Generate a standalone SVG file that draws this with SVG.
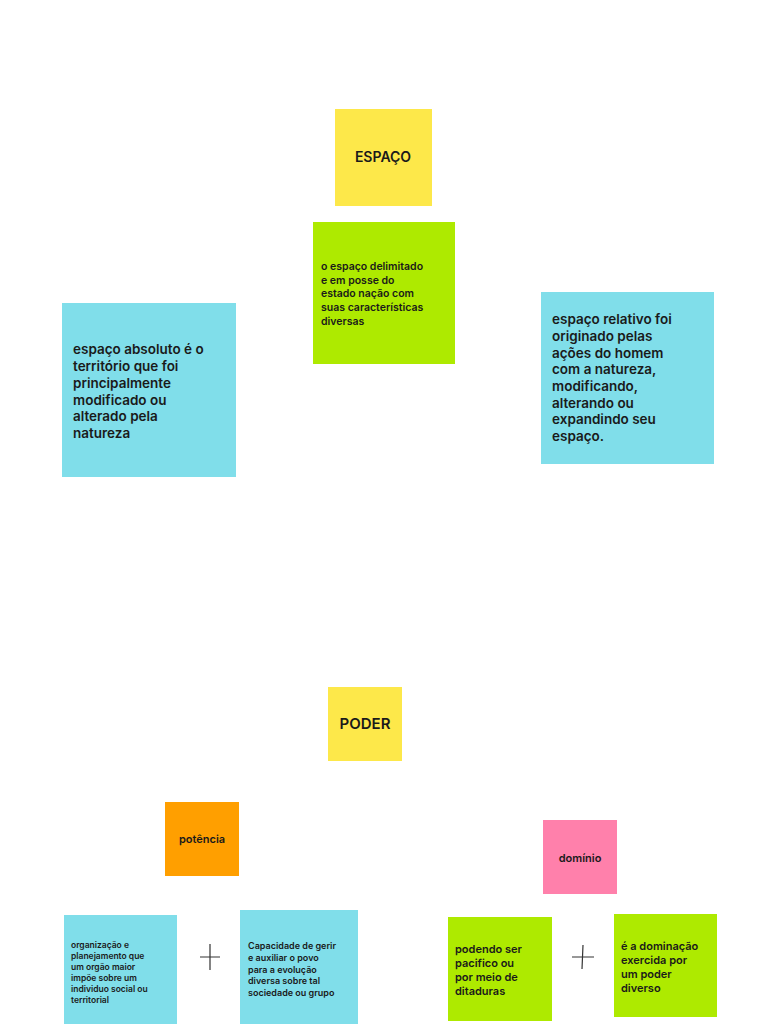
<svg xmlns="http://www.w3.org/2000/svg" width="768" height="1024" viewBox="0 0 768 1024">
<style>
text{font-family:Inter,"Open Sans","Liberation Sans",sans-serif;font-weight:600;fill:#1a1a1a}
.y{fill:#fde84a}.g{fill:#aeea00}.b{fill:#80deea}.o{fill:#ff9f00}.p{fill:#ff80ab}
.pl{stroke:#333;stroke-width:1.2;fill:none}
</style>
<rect width="768" height="1024" fill="#fff"/>
<g id="espaco"><rect class="y" x="335" y="109" width="97" height="97"/><text x="383" y="162" font-size="14" text-anchor="middle">ESPAÇO</text></g>
<g id="delimitado"><rect class="g" x="313" y="222" width="142" height="142"/>
<text font-size="10.5" x="321"><tspan x="321" y="270">o espaço delimitado</tspan><tspan x="321" y="284">e em posse do</tspan><tspan x="321" y="297">estado nação com</tspan><tspan x="321" y="311">suas características</tspan><tspan x="321" y="325">diversas</tspan></text></g>
<g id="absoluto"><rect class="b" x="62" y="303" width="174" height="174"/>
<text font-size="13.5"><tspan x="73" y="354">espaço absoluto é o</tspan><tspan x="73" y="371">território que foi</tspan><tspan x="73" y="388">principalmente</tspan><tspan x="73" y="405">modificado ou</tspan><tspan x="73" y="421">alterado pela</tspan><tspan x="73" y="438">natureza</tspan></text></g>
<g id="relativo"><rect class="b" x="541" y="292" width="173" height="172"/>
<text font-size="13.5"><tspan x="552" y="324">espaço relativo foi</tspan><tspan x="552" y="341">originado pelas</tspan><tspan x="552" y="358">ações do homem</tspan><tspan x="552" y="374">com a natureza,</tspan><tspan x="552" y="391">modificando,</tspan><tspan x="552" y="408">alterando ou</tspan><tspan x="552" y="424">expandindo seu</tspan><tspan x="552" y="441">espaço.</tspan></text></g>
<g id="poder"><rect class="y" x="328" y="687" width="74" height="74"/><text x="365" y="729" font-size="15" text-anchor="middle">PODER</text></g>
<g id="potencia"><rect class="o" x="165" y="802" width="74" height="74"/><text x="202" y="843" font-size="11" text-anchor="middle">potência</text></g>
<g id="dominio"><rect class="p" x="543" y="820" width="74" height="74"/><text x="580" y="862" font-size="11" text-anchor="middle">domínio</text></g>
<g id="organizacao"><rect class="b" x="64" y="915" width="113" height="109"/>
<text font-size="8.5"><tspan x="71" y="948">organização e</tspan><tspan x="71" y="959">planejamento que</tspan><tspan x="71" y="970">um orgão maior</tspan><tspan x="71" y="981">impõe sobre um</tspan><tspan x="71" y="992">individuo social ou</tspan><tspan x="71" y="1003">territorial</tspan></text></g>
<g id="capacidade"><rect class="b" x="240" y="910" width="118" height="114"/>
<text font-size="9"><tspan x="248" y="949">Capacidade de gerir</tspan><tspan x="248" y="961">e auxiliar o povo</tspan><tspan x="248" y="973">para a evolução</tspan><tspan x="248" y="984">diversa sobre tal</tspan><tspan x="248" y="996">sociedade ou grupo</tspan></text></g>
<g id="pacifico"><rect class="g" x="448" y="917" width="104" height="104"/>
<text font-size="11"><tspan x="455" y="953">podendo ser</tspan><tspan x="455" y="967">pacifico ou</tspan><tspan x="455" y="981">por meio de</tspan><tspan x="455" y="995">ditaduras</tspan></text></g>
<g id="dominacao"><rect class="g" x="614" y="914" width="103" height="103"/>
<text font-size="11"><tspan x="621" y="950">é a dominação</tspan><tspan x="621" y="964">exercida por</tspan><tspan x="621" y="978">um poder</tspan><tspan x="621" y="992">diverso</tspan></text></g>
<g id="connectors">
<path class="pl" d="M200 957H220M210 944L210 970"/>
<path class="pl" d="M572 957H594M583 945L582 969"/>
</g>
</svg>
